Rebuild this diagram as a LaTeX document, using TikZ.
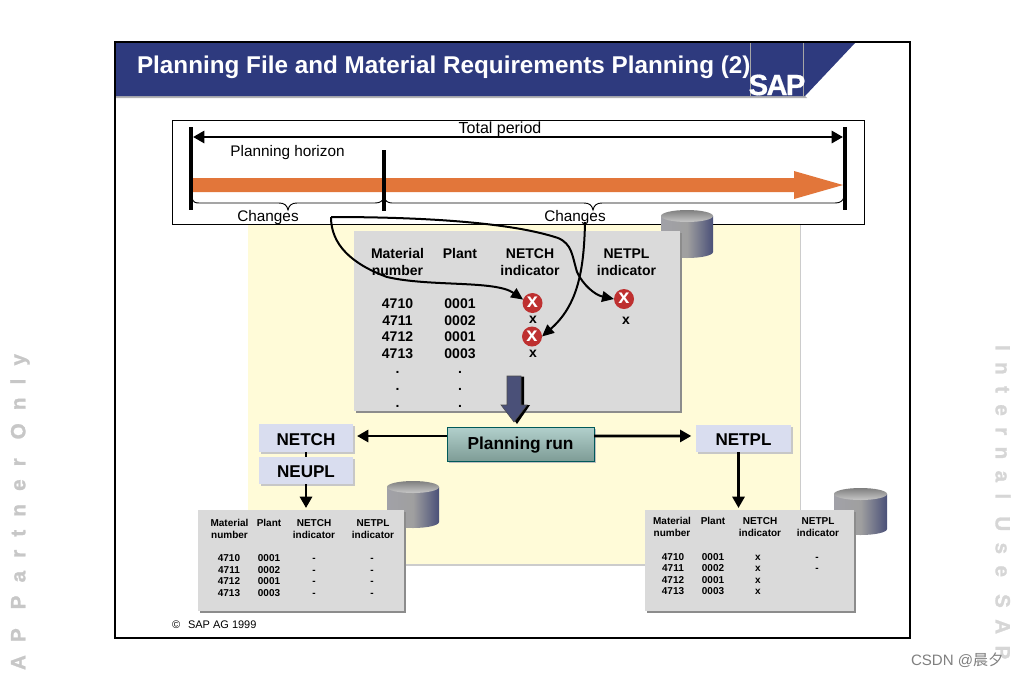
\documentclass[tikz,border=0pt]{standalone}
\usepackage{fontspec}
\setmainfont{Liberation Sans}
\newfontfamily\cjkwm{Noto Sans CJK SC}
\newfontfamily\sidefontL[LetterSpace=63.5,FakeBold=1.2]{Liberation Sans Bold}
\newfontfamily\sidefontR[LetterSpace=55,FakeBold=1.2]{Liberation Sans Bold}
\newfontfamily\logofont[LetterSpace=-6,FakeBold=0.6]{Liberation Sans Bold}
\usetikzlibrary{arrows.meta,shadows,calc}
\definecolor{sapblue}{HTML}{2E3A7E}
\definecolor{orangebar}{HTML}{E2763A}
\definecolor{paleyellow}{HTML}{FFFBD8}
\definecolor{panelgray}{HTML}{DADADA}
\definecolor{lavbox}{HTML}{D9DDEF}
\definecolor{redmark}{HTML}{BE3030}
\definecolor{darkarrow}{HTML}{4A5078}
\definecolor{runtop}{HTML}{B2D0CC}
\definecolor{runbottom}{HTML}{7E9C96}
\tikzset{
  x=0.75pt,y=-0.75pt,
  every node/.style={inner sep=0pt,outer sep=0pt,align=center},
  hardshadow/.style={general shadow={shadow xshift=1.2pt,shadow yshift=-1.2pt,fill=#1}},
  panel/.style={anchor=north west,fill=panelgray,hardshadow=black!45},
  lavender/.style={anchor=north west,fill=lavbox,hardshadow=black!22,text height=10.7pt,text depth=0pt,font=\fontsize{12.8pt}{15pt}\selectfont\bfseries},
  bigtxt/.style={font=\fontsize{10.5pt}{12.6pt}\selectfont\bfseries},
  bigcell/.style={bigtxt,text height=7.5pt,text depth=0pt},
  smalltxt/.style={font=\fontsize{7.5pt}{9pt}\selectfont\bfseries},
  smallcell/.style={smalltxt,text height=5.4pt,text depth=0pt},
  lbl/.style={font=\fontsize{12pt}{14pt}\selectfont},
  lblsmall/.style={font=\fontsize{11.5pt}{14pt}\selectfont},
  bluntarrow/.style={line width=2.2pt,-{Triangle[length=8.5pt,width=9pt]}},
  curvearrow/.style={line width=1.5pt,-{Triangle[length=9pt,width=8pt]}},
  vbar/.style={line width=2.4pt},
  bracepath/.style={line width=0.7pt},
  redx/.style={circle,fill=redmark,minimum size=15pt,text=white,text height=7.4pt,text depth=0pt,font=\fontsize{15pt}{15pt}\selectfont\bfseries},
}
\newcommand{\cylinder}[4]{% x1, x2, ytop-centre, ybottom-centre
  \path[left color=black!28!blue!5!gray!70,right color=darkarrow,middle color=gray!75]
    (#1,#3) -- (#1,#4) arc[start angle=180,end angle=360,x radius={(#2-#1)/2*0.75pt},y radius=4.5pt] -- (#2,#3) -- cycle;
  \path[top color=black!50,bottom color=black!22]
    ({(#1+#2)/2},#3) ellipse[x radius={(#2-#1)/2*0.75pt},y radius=4.5pt];
}
\begin{document}
\begin{tikzpicture}
\useasboundingbox (0,0) rectangle (1020,676);
\fill[white] (0,0) rectangle (1020,676);

% side texts
\node[rotate=90,anchor=west,text=black!22,font=\fontsize{15.5pt}{16pt}\sidefontL] (sideleft) at (20,670) {AP Partner Only};
\node[rotate=-90,anchor=west,text=black!16,font=\fontsize{15.5pt}{16pt}\sidefontR] (sideright) at (1003,345) {Internal Use SAP};

% frame
\draw[line width=1.2pt] (115,42) rectangle (910,638);

% title band
\fill[black!30] (116,96) -- (805,96) -- (807,98) -- (116,98) -- cycle;
\fill[sapblue] (116,43) -- (855,43) -- (805,96) -- (116,96) -- cycle;
\draw[black!35,line width=0.5pt] (750.5,43) -- (750.5,96);
\draw[black!35,line width=0.5pt] (803,43) -- (803,96);
\node[anchor=west,text=white,font=\fontsize{18.2pt}{20pt}\selectfont\bfseries] (title) at (137,67) {Planning File and Material Requirements Planning (2)};
\node[text=white,font=\fontsize{22pt}{22pt}\logofont] (saplogo) at (777,85) {SAP};

% yellow area
\fill[black!20] (249.5,225) rectangle (801,565.5);
\fill[paleyellow] (248,224) rectangle (800,564);

% time box
\draw[fill=white,line width=0.6pt] (172,120) rectangle (864,224);
\node[lbl] (total) at (500,129) {Total period};
\node[lblsmall] (horizon) at (287.5,152.5) {Planning horizon};
\fill[orangebar] (191,178) -- (794,178) -- (794,171) -- (843,185) -- (794,199) -- (794,192) -- (191,192) -- cycle;
\coordinate (barL) at (191,137);
\coordinate (barR) at (845,137);
\draw[line width=2.2pt,{Triangle[length=8.5pt,width=9pt]}-{Triangle[length=8.5pt,width=9pt]},shorten <=1.5pt,shorten >=1.5pt] (barL) -- (barR);
\draw[vbar] (191,127) -- (191,210);
\draw[vbar] (845,127) -- (845,210);
\draw[vbar] (384,150) -- (384,211);
\draw[bracepath] (192,198) .. controls (193,202) and (195,203) .. (199,203) -- (279,203)
  .. controls (284,203) and (287,205) .. (288,210) .. controls (289,205) and (292,203) .. (297,203) -- (375,203)
  .. controls (380,203) and (383,201) .. (384,197);
\draw[bracepath] (384,197) .. controls (385,201) and (388,203) .. (392,203) -- (584,203)
  .. controls (589,203) and (592,205) .. (593,210) .. controls (594,205) and (597,203) .. (602,203) -- (835,203)
  .. controls (840,203) and (843,201) .. (844,197);
\node[lblsmall] (chg1) at (268,217.5) {Changes};
\node[lblsmall] (chg2) at (575,217.5) {Changes};

% cylinders
\cylinder{661}{713}{216}{252}
\cylinder{387}{439}{487}{522}
\cylinder{834}{887}{494}{529}

% main panel
\node[panel,minimum width=326*0.75pt,minimum height=180*0.75pt] (mainpanel) at (354,231) {};
\node[bigtxt] (m1) at (397.5,262) {Material\\number};
\node[bigtxt] (m2) at (460,253) {Plant};
\node[bigtxt] (m3) at (530,262) {NETCH\\indicator};
\node[bigtxt] (m4) at (626.5,262) {NETPL\\indicator};
\foreach \a/\b/\yy [count=\i] in {4710/0001/303,4711/0002/320,4712/0001/336.5,4713/0003/353}{
  \node[bigcell] (ma\i) at (397.5,\yy) {\a};
  \node[bigcell] (mb\i) at (460,\yy) {\b};
}
\node[bigcell] (xa) at (533,318.5) {x};
\node[bigcell] (xb) at (533,352) {x};
\node[bigcell] (xc) at (626,319) {x};
\foreach \yy [count=\i] in {368,385,402}{
  \node[bigcell] (da\i) at (397.5,\yy) {.};
  \node[bigcell] (db\i) at (460,\yy) {.};
}
\node[redx] (r1) at (532.5,303) {x};
\node[redx] (r2) at (624,299) {x};
\node[redx] (r3) at (532,336.5) {x};

% down arrow
\fill[black] (510,376.5) -- (524,376.5) -- (524,405) -- (530,405) -- (517,424) -- (504,405) -- (510,405) -- cycle;
\draw[fill=darkarrow,draw=black!70,line width=0.4pt] (507,376) -- (521,376) -- (521,405) -- (527,405) -- (514,422) -- (501,405) -- (507,405) -- cycle;

% process boxes
\node[anchor=north west,minimum width=147*0.75pt,minimum height=34*0.75pt,top color=runtop,bottom color=runbottom,draw=teal!70!black,line width=0.4pt,hardshadow=black!25,text height=8pt,text depth=0pt,font=\fontsize{13pt}{15pt}\selectfont\bfseries] (run) at (447,427) {Planning run};
\node[lavender,minimum width=94*0.75pt,minimum height=28*0.75pt] (netch) at (259,424) {NETCH};
\node[lavender,minimum width=94*0.75pt,minimum height=27*0.75pt] (neupl) at (259,457) {NEUPL};
\node[lavender,minimum width=95*0.75pt,minimum height=27*0.75pt] (netpl) at (696,425) {NETPL};

% small panels
\node[panel,minimum width=206*0.75pt,minimum height=101*0.75pt] (leftpanel) at (198,510) {};
\node[smalltxt] (l1) at (229.5,529) {Material\\number};
\node[smalltxt] (l2) at (269,523) {Plant};
\node[smalltxt] (l3) at (314,529) {NETCH\\indicator};
\node[smalltxt] (l4) at (373,529) {NETPL\\indicator};
\foreach \a/\b/\yy [count=\i] in {4710/0001/558,4711/0002/569.5,4712/0001/581,4713/0003/592.5}{
  \node[smallcell] (la\i) at (229,\yy) {\a};
  \node[smallcell] (lb\i) at (269,\yy) {\b};
  \node[smallcell] (lc\i) at (314,\yy) {-};
  \node[smallcell] (ld\i) at (372,\yy) {-};
}
\node[panel,minimum width=209*0.75pt,minimum height=101*0.75pt] (rightpanel) at (645,510) {};
\node[smalltxt] (r1a) at (672,527) {Material\\number};
\node[smalltxt] (r2a) at (713,520.5) {Plant};
\node[smalltxt] (r3a) at (760,527) {NETCH\\indicator};
\node[smalltxt] (r4a) at (818,527) {NETPL\\indicator};
\foreach \a/\b/\yy [count=\i] in {4710/0001/557,4711/0002/568,4712/0001/579.5,4713/0003/591}{
  \node[smallcell] (ra\i) at (673,\yy) {\a};
  \node[smallcell] (rb\i) at (713,\yy) {\b};
  \node[smallcell] (rc\i) at (758,\yy) {x};
}
\node[smallcell] (rd1) at (817,557) {-};
\node[smallcell] (rd2) at (817,568) {-};

% connectors
\draw[bluntarrow,shorten >=3pt] ([yshift=6pt]run.west) -- ([yshift=1.5pt]netch.east);
\draw[bluntarrow,shorten >=3.5pt] ([yshift=6pt]run.east) -- ([yshift=1.9pt]netpl.west);
\draw[line width=2.2pt] (netch.south) -- (neupl.north);
\draw[bluntarrow,shorten >=1.5pt] (neupl.south) -- (leftpanel.north -| neupl.south);
\coordinate (netplout) at ([xshift=-3.75pt]netpl.south);
\draw[bluntarrow,shorten >=1.5pt] (netplout) -- (rightpanel.north -| netplout);

% curved change arrows
\coordinate (chgstart) at (331,217);
\draw[curvearrow] (chgstart) .. controls (420,217) and (510,222) .. (558,238)
  .. controls (572,244) and (572,255) .. (577,272) .. controls (583,285) and (595,295) .. (r2.west);
\draw[curvearrow] (chgstart) .. controls (331,245) and (352,264) .. (387,277)
  .. controls (430,287) and (495,280) .. (r1.160);
\draw[curvearrow] (chgstart -| chg2.south) ++(10,5) .. controls (584,270) and (578,305) .. (r3.east);

% footer
\node[font=\fontsize{8.25pt}{10pt}\selectfont,anchor=west] (copy) at (172,625) {©};
\node[font=\fontsize{8.25pt}{10pt}\selectfont,anchor=west] (sapag) at (188,625) {SAP AG 1999};
\node[anchor=west,text=black!50,font=\fontsize{11.3pt}{12pt}\selectfont] (wm) at (911,660) {CSDN @{\cjkwm 晨夕}};
\end{tikzpicture}
\end{document}
